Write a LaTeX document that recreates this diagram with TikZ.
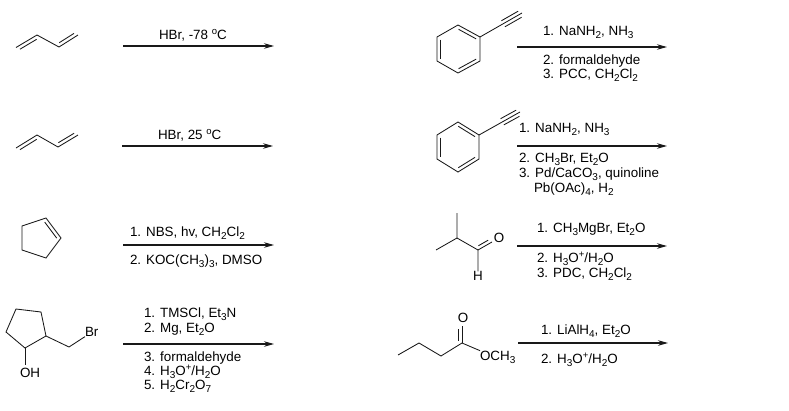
\documentclass[tikz,border=0pt]{standalone}
\usepackage{fontspec}
\setmainfont{Liberation Sans}
\usetikzlibrary{calc,arrows.meta}
\newcommand{\lo}[1]{\raisebox{-0.24em}{\fontsize{10}{10}\selectfont #1}}
\newcommand{\hi}[1]{\raisebox{0.3em}{\fontsize{9.5}{9.5}\selectfont #1}}
% second line of a multiple bond: #1,#2 end points, #3 signed offset in pt
\newcommand{\secondline}[3]{\draw[bond,shorten <=2.5pt,shorten >=2.5pt] ($(#1)!#3pt!90:(#2)$) -- ($(#2)!#3pt!-90:(#1)$);}
\tikzset{
  bond/.style={line width=0.85pt,draw=black!90},
  reagent/.style={anchor=base west,inner sep=0pt,outer sep=0pt,font=\fontsize{13.4}{14}\selectfont,text=black},
  atom/.style={inner sep=0pt,outer sep=0pt,font=\fontsize{13.4}{14}\selectfont,text=black},
  rxn/.style={line width=1.1pt,draw=black!90,-{Stealth[length=10pt,width=5.5pt]}}
}
\begin{document}
\begin{tikzpicture}[x=1pt,y=-1pt]
\useasboundingbox (0,0) rectangle (789,410);
\fill[white] (0,0) rectangle (789,410);

% butadiene 1
\coordinate (a1) at (16,47.5); \coordinate (a2) at (37,35); \coordinate (a3) at (59,47); \coordinate (a4) at (78,35);
\draw[bond] (a1)--(a2)--(a3)--(a4);
\secondline{a1}{a2}{-3.5}
\secondline{a3}{a4}{3.5}
% butadiene 2
\coordinate (b1) at (16,148); \coordinate (b2) at (37,135); \coordinate (b3) at (58,147); \coordinate (b4) at (78,135);
\draw[bond] (b1)--(b2)--(b3)--(b4);
\secondline{b1}{b2}{-3.5}
\secondline{b3}{b4}{3.5}
% cyclopentene
\coordinate (c1) at (22,226); \coordinate (c2) at (46,218); \coordinate (c3) at (61,238); \coordinate (c4) at (46,258); \coordinate (c5) at (22,250);
\draw[bond] (c1)--(c2)--(c3)--(c4)--(c5)--cycle;
\secondline{c2}{c3}{-3.5}
% bromomethyl cyclopentanol
\coordinate (d1) at (16,309); \coordinate (d2) at (41,312); \coordinate (d3) at (46,336); \coordinate (d4) at (25,348); \coordinate (d5) at (6,332); \coordinate (d6) at (69,347);
\node[atom,anchor=west] (br) at (85,332) {Br};
\node[atom,anchor=west] (oh) at (20,373) {OH};
\draw[bond] (d1)--(d2)--(d3)--(d4)--(d5)--cycle;
\draw[bond] (d3)--(d6)--(br.south west);
\draw[bond] (d4)--(25,365);
% phenylacetylene 1
\coordinate (e1) at (480,37); \coordinate (e2) at (458,25); \coordinate (e3) at (437,37); \coordinate (e4) at (437,61); \coordinate (e5) at (458,73); \coordinate (e6) at (480,61); \coordinate (e7) at (501,25); \coordinate (e8) at (522,13);
\draw[bond] (e1)--(e2)--(e3)--(e4)--(e5)--(e6)--cycle;
\secondline{e1}{e2}{3.5}
\secondline{e3}{e4}{3.5}
\secondline{e5}{e6}{3.5}
\draw[bond] (e1)--(e8);
\secondline{e7}{e8}{3.5}
\secondline{e7}{e8}{-3.5}
% phenylacetylene 2
\coordinate (f1) at (479,135); \coordinate (f2) at (458,122); \coordinate (f3) at (437,135); \coordinate (f4) at (437,159); \coordinate (f5) at (458,172); \coordinate (f6) at (479,159); \coordinate (f7) at (500,123); \coordinate (f8) at (520,112);
\draw[bond] (f1)--(f2)--(f3)--(f4)--(f5)--(f6)--cycle;
\secondline{f1}{f2}{3.5}
\secondline{f3}{f4}{3.5}
\secondline{f5}{f6}{3.5}
\draw[bond] (f1)--(f8);
\secondline{f7}{f8}{3.5}
\secondline{f7}{f8}{-3.5}
% isobutyraldehyde
\coordinate (g1) at (457,213); \coordinate (g2) at (457,238); \coordinate (g3) at (436,250); \coordinate (g4) at (478,250);
\node[atom] (go) at (499,238) {O};
\node[atom] (gh) at (478,276) {H};
\draw[bond] (g1)--(g2)--(g3);
\draw[bond] (g2)--(g4)--(gh.north);
\coordinate (g5) at (492,242);
\draw[bond] (g4)--(g5);
\secondline{g4}{g5}{3.5}
% methyl butanoate
\coordinate (h1) at (398,355); \coordinate (h2) at (419,343); \coordinate (h3) at (441,356); \coordinate (h4) at (462,343);
\node[atom] (ho) at (463,318) {O};
\node[atom,anchor=west] (hm) at (480,357) {OCH\lo{3}};
\draw[bond] (h1)--(h2)--(h3)--(h4)--(hm.north west);
\coordinate (h5) at (462,326);
\draw[bond] (h4)--(h5);
\secondline{h4}{h5}{3.5}

% arrows
\coordinate (s1) at (123,46); \coordinate (t1) at (274,46);
\coordinate (s2) at (122,146); \coordinate (t2) at (273,146);
\coordinate (s3) at (123,245); \coordinate (t3) at (274,245);
\coordinate (s4) at (123,344); \coordinate (t4) at (274,344);
\coordinate (s5) at (517,47); \coordinate (t5) at (667,47);
\coordinate (s6) at (517,146); \coordinate (t6) at (667,146);
\coordinate (s7) at (517,246); \coordinate (t7) at (667,246);
\coordinate (s8) at (518,343); \coordinate (t8) at (668,343);
\foreach \i in {1,...,8} {\draw[rxn] (s\i)--(t\i);}

% reagents, left column
\node[reagent] (l1) at (159,39) {HBr, -78 \hi{o}C};
\node[reagent] (l2) at (158,139) {HBr, 25 \hi{o}C};
\node[reagent] (l3) at (130,236) {1. NBS, hv, CH\lo{2}Cl\lo{2}};
\node[reagent] (l4) at (130,264) {2. KOC(CH\lo{3})\lo{3}, DMSO};
\node[reagent] (l5) at (144,317) {1. TMSCl, Et\lo{3}N};
\node[reagent] (l6) at (144,332) {2. Mg, Et\lo{2}O};
\node[reagent] (l7) at (144,361) {3. formaldehyde};
\node[reagent] (l8) at (144,375) {4. H\lo{3}O\hi{+}/H\lo{2}O};
\node[reagent] (l9) at (144,389) {5. H\lo{2}Cr\lo{2}O\lo{7}};
% reagents, right column
\node[reagent] (r1) at (543,35) {1. NaNH\lo{2}, NH\lo{3}};
\node[reagent] (r2) at (543,64) {2. formaldehyde};
\node[reagent] (r3) at (543,78) {3. PCC, CH\lo{2}Cl\lo{2}};
\node[reagent] (r4) at (519,132) {1. NaNH\lo{2}, NH\lo{3}};
\node[reagent] (r5) at (519,162) {2. CH\lo{3}Br, Et\lo{2}O};
\node[reagent] (r6) at (519,177) {3. Pd/CaCO\lo{3}, quinoline};
\node[reagent] (r7) at (534,192) {Pb(OAc)\lo{4}, H\lo{2}};
\node[reagent] (r8) at (537,232) {1. CH\lo{3}MgBr, Et\lo{2}O};
\node[reagent] (r9) at (537,262) {2. H\lo{3}O\hi{+}/H\lo{2}O};
\node[reagent] (r10) at (537,277) {3. PDC, CH\lo{2}Cl\lo{2}};
\node[reagent] (r11) at (541,334) {1. LiAlH\lo{4}, Et\lo{2}O};
\node[reagent] (r12) at (541,363) {2. H\lo{3}O\hi{+}/H\lo{2}O};
\end{tikzpicture}
\end{document}
